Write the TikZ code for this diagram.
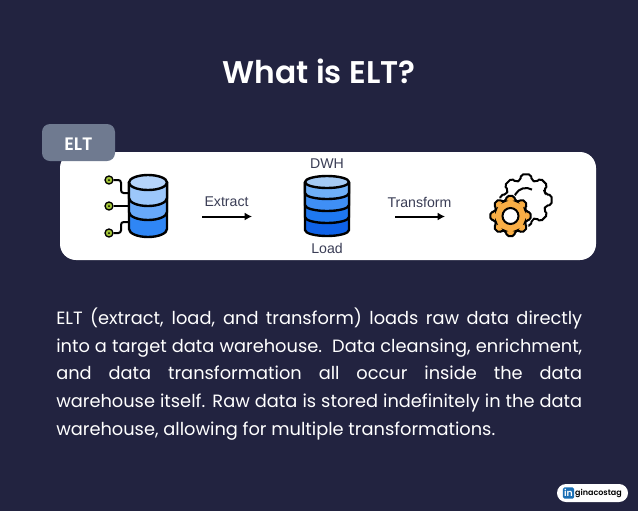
\documentclass[tikz,border=0pt]{standalone}
\usepackage{fontspec}
\usetikzlibrary{arrows.meta}
\setmainfont{Poppins}[BoldFont=* SemiBold]
\newfontfamily\labelfont{Liberation Sans}
\definecolor{pagebg}{HTML}{222340}
\definecolor{badgegrey}{HTML}{6F7A90}
\definecolor{labelgrey}{HTML}{3A3D55}
\definecolor{pingreen}{HTML}{A4C639}
\definecolor{gearorange}{HTML}{F9AE45}
\definecolor{linkedblue}{HTML}{1A6FB5}
\definecolor{srctop}{HTML}{B5D4FB}
\definecolor{srcone}{HTML}{9CC7FB}
\definecolor{srctwo}{HTML}{68A9FA}
\definecolor{srcthree}{HTML}{2F86F5}
\definecolor{dwhtop}{HTML}{A5CBF5}
\definecolor{dwhone}{HTML}{6FB0F8}
\definecolor{dwhtwo}{HTML}{3F8FF5}
\definecolor{dwhthree}{HTML}{1E78F0}
\definecolor{dwhfour}{HTML}{0F62E8}
\tikzset{
  cardbox/.style={fill=white,rounded corners=12pt,minimum width=402pt,minimum height=81pt,inner sep=0pt},
  badgebox/.style={fill=badgegrey,rounded corners=6pt,minimum width=54.75pt,minimum height=27.75pt,inner sep=0pt},
  pillbox/.style={fill=white,rounded corners=6.7pt,minimum width=53.25pt,minimum height=13.5pt,inner sep=0pt},
  cardlabel/.style={text=labelgrey,font=\labelfont\fontsize{10.6}{12}\selectfont,inner sep=0pt},
  bodytext/.style={text=white,text width=394.5pt,align=justify,inner sep=0pt,anchor=north west,
    font=\fontsize{13.35}{20.8}\selectfont},
  pinnode/.style={circle,draw=black,fill=pingreen,line width=1pt,minimum size=6pt,inner sep=0pt},
  tank/.style={draw=black,line width=1.8pt,line join=round},
  flow/.style={-{Latex[length=5.5pt,width=6pt]},line width=1.5pt,black},
  tail/.style={line width=1.5pt,rounded corners=2pt},
  gearline/.style={black,line width=1.5pt,rounded corners=1.5pt},
}
% one gear, centred on the current origin: #1 outer radius, #2 root radius
\newcommand{\gearpath}[2]{
  (-22.5:#2) \foreach \a in {0,45,...,315} {
    -- (\a-16:#2) -- (\a-11:#1) -- (\a+11:#1) -- (\a+16:#2)
  } -- cycle
}
\begin{document}
\begin{tikzpicture}[x=0.75pt,y=-0.75pt]
  \useasboundingbox[fill=pagebg] (0,0) rectangle (638,511);

  \node[text=white,font=\fontsize{23.5}{30}\selectfont\bfseries] (title) at (319,71) {What is ELT?};

  \node[cardbox] (card) at (328,206) {};
  \node[badgebox] (badge) at (78.5,142.5) {};
  \node[text=white,font=\fontsize{13.5}{16}\selectfont\bfseries] (badgetext) at (78.5,144) {ELT};

  % source tank
  \foreach \ybot/\col in {229/srcthree,212/srctwo,198/srcone} {
    \draw[tank,fill=\col] (129,182) -- (129,\ybot) arc[start angle=180,end angle=0,x radius=19,y radius=8] -- (167,182) -- cycle;
  };
  \draw[tank,fill=srctop] (148,182.5) ellipse [x radius=19,y radius=7.5];

  \coordinate (tailtop) at (129,193);
  \coordinate (tailmid) at (129,206);
  \coordinate (tailbot) at (129,222);
  \node[pinnode] (pintop) at (109,180) {};
  \node[pinnode] (pinmid) at (109,206) {};
  \node[pinnode] (pinbot) at (109,233) {};
  \foreach \p in {pintop,pinmid,pinbot} {
    \fill[black] (\p) circle [radius=1];
  };
  \draw[tail] (pintop) -- (121,180) -- (121,193) -- (tailtop);
  \draw[tail] (pinmid) -- (tailmid);
  \draw[tail] (pinbot) -- (121,233) -- (121,222) -- (tailbot);

  % warehouse tank
  \foreach \ybot/\col in {230/dwhfour,217/dwhthree,205/dwhtwo,193/dwhone} {
    \draw[tank,fill=\col] (305,182) -- (305,\ybot) arc[start angle=180,end angle=0,x radius=22,y radius=6] -- (349,182) -- cycle;
  };
  \draw[tank,fill=dwhtop] (327,182) ellipse [x radius=22,y radius=6];

  \node[cardlabel] (dwhlabel) at (327,164) {DWH};
  \node[cardlabel] (loadlabel) at (327,248) {Load};
  \node[cardlabel] (extractlabel) at (226.5,202) {Extract};
  \node[cardlabel] (transformlabel) at (419.5,202) {Transform};

  \coordinate (extractfrom) at (202,216.5);
  \coordinate (extractto) at (252,216.5);
  \coordinate (transformfrom) at (395,216.5);
  \coordinate (transformto) at (445,216.5);
  \draw[flow] (extractfrom) -- (extractto);
  \draw[flow] (transformfrom) -- (transformto);

  % gears
  \begin{scope}[shift={(526,200)}]
    \draw[gearline,fill=white] \gearpath{26}{20.5};
    \draw[black,line width=1.5pt] (-60:12) arc[start angle=-60,end angle=-250,radius=12];
  \end{scope}
  \begin{scope}[shift={(510.5,216)}]
    \draw[white,fill=white,line width=3pt,rounded corners=1.5pt] \gearpath{20.5}{16};
    \draw[gearline,fill=gearorange] \gearpath{20.5}{16};
    \draw[black,fill=white,line width=1.5pt] (0,0) circle [radius=8];
  \end{scope}

  \node[bodytext] (body) at (56,307.5) {ELT (extract, load, and transform) loads raw data directly\linebreak
    into a target data warehouse.\ \ Data cleansing, enrichment,\linebreak
    and data transformation all occur inside the data\linebreak
    warehouse itself. Raw data is stored indefinitely in the data\linebreak
    warehouse, allowing for multiple transformations.};

  \node[pillbox] (pill) at (592.5,493) {};
  \node[fill=linkedblue,rounded corners=1.2pt,text=white,minimum size=8.5pt,inner sep=0pt,font=\fontsize{7}{7}\selectfont\bfseries] (linkedin) at (568.5,493) {in};
  \node[inner sep=0pt,text=black,font=\fontsize{6}{8}\selectfont\bfseries] (handle) at (598.5,493) {ginacostag};
\end{tikzpicture}
\end{document}
